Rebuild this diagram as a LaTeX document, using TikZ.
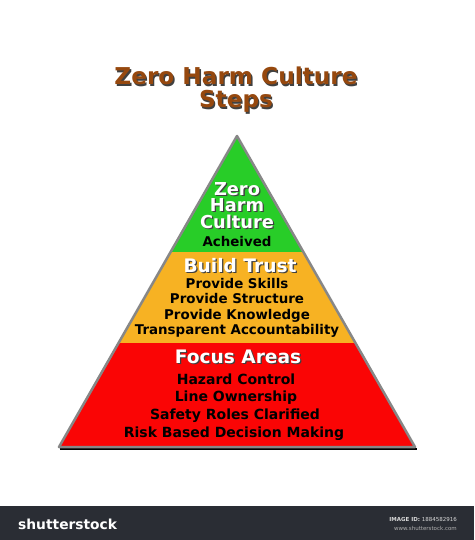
\documentclass[tikz,border=0pt]{standalone}
\usepackage{fontspec}
\setmainfont{DejaVu Sans}
\usetikzlibrary{calc}
\definecolor{titlebrown}{RGB}{150,72,14}
\definecolor{pgreen}{RGB}{40,205,40}
\definecolor{porange}{RGB}{247,178,35}
\definecolor{pred}{RGB}{250,5,5}
\definecolor{outl}{RGB}{135,135,135}
\definecolor{barbg}{RGB}{42,45,52}
\newcommand\shadowed[1]{\makebox[0pt][l]{\hspace{1.3pt}\raisebox{-1.3pt}{\color{black!75}#1}}#1}
\begin{document}
\begin{tikzpicture}[x=1pt,y=-1pt,
  txt/.style={anchor=base,inner sep=0pt},
  titlestyle/.style={txt,font=\bfseries\fontsize{23.2}{26}\selectfont,text=titlebrown},
  headstyle/.style={txt,font=\bfseries\fontsize{18.6}{20}\selectfont,text=white},
  topstyle/.style={inner sep=0pt,anchor=north,align=center,font=\bfseries\fontsize{17.8}{16.5}\selectfont,text=white},
  itemstyle/.style={txt,font=\bfseries\fontsize{13.4}{15}\selectfont,text=black},
  reditem/.style={txt,font=\bfseries\fontsize{14}{16}\selectfont,text=black}]
\useasboundingbox (0,0) rectangle (474,540);
\fill[white] (0,0) rectangle (474,540);
% pyramid geometry
\coordinate (A) at (237,136);
\coordinate (BL) at (59,447);
\coordinate (BR) at (415,447);
\coordinate (GL) at ($(A)!0.373!(BL)$);
\coordinate (GR) at ($(A)!0.373!(BR)$);
\coordinate (OL) at ($(A)!0.666!(BL)$);
\coordinate (OR) at ($(A)!0.666!(BR)$);
% shadow under base
\draw[black, line width=2pt] ($(BL)+(1,2.2)$) -- ($(BR)+(2,2.2)$);
% bands
\fill[pgreen] (A) -- (GR) -- (GL) -- cycle;
\fill[porange] (GL) -- (GR) -- (OR) -- (OL) -- cycle;
\fill[pred] (OL) -- (OR) -- (BR) -- (BL) -- cycle;
\draw[outl, line width=2.5pt, line join=round] (A) -- (BR) -- (BL) -- cycle;
% title
\node[titlestyle] (t1) at (236,85) {\shadowed{Zero Harm Culture}};
\node[titlestyle] (t2) at (236,108) {\shadowed{Steps}};
% green level
\node[topstyle] (g1) at (237,182) {\shadowed{Zero}\\\shadowed{Harm}\\\shadowed{Culture}};
\node[itemstyle] (g4) at (237,246) {Acheived};
% orange level
\node[headstyle] (o0) at (240,272) {\shadowed{Build Trust}};
\node[itemstyle] (o1) at (237,288) {Provide Skills};
\node[itemstyle] (o2) at (237,303) {Provide Structure};
\node[itemstyle] (o3) at (237,319) {Provide Knowledge};
\node[itemstyle] (o4) at (237,334.5) {Transparent Accountability};
% red level
\node[headstyle] (r0) at (238,363.5) {\shadowed{Focus Areas}};
\node[reditem] (r1) at (236,384) {Hazard Control};
\node[reditem] (r2) at (236,401) {Line Ownership};
\node[reditem] (r3) at (235,419) {Safety Roles Clarified};
\node[reditem] (r4) at (234,437) {Risk Based Decision Making};
% bottom bar
\fill[barbg] (0,506) rectangle (474,540);
\node[txt,anchor=base west,font=\bfseries\fontsize{13.8}{15}\selectfont,text=white] (logo) at (18,529) {shutterstock};
\node[txt,anchor=base east,font=\fontsize{5.5}{6}\selectfont,text=white!85!black] (imgid) at (457,521) {\textbf{IMAGE ID:} 1884582916};
\node[txt,anchor=base east,font=\fontsize{5.5}{6}\selectfont,text=white!70!black] (www) at (457,530) {www.shutterstock.com};
\end{tikzpicture}
\end{document}
